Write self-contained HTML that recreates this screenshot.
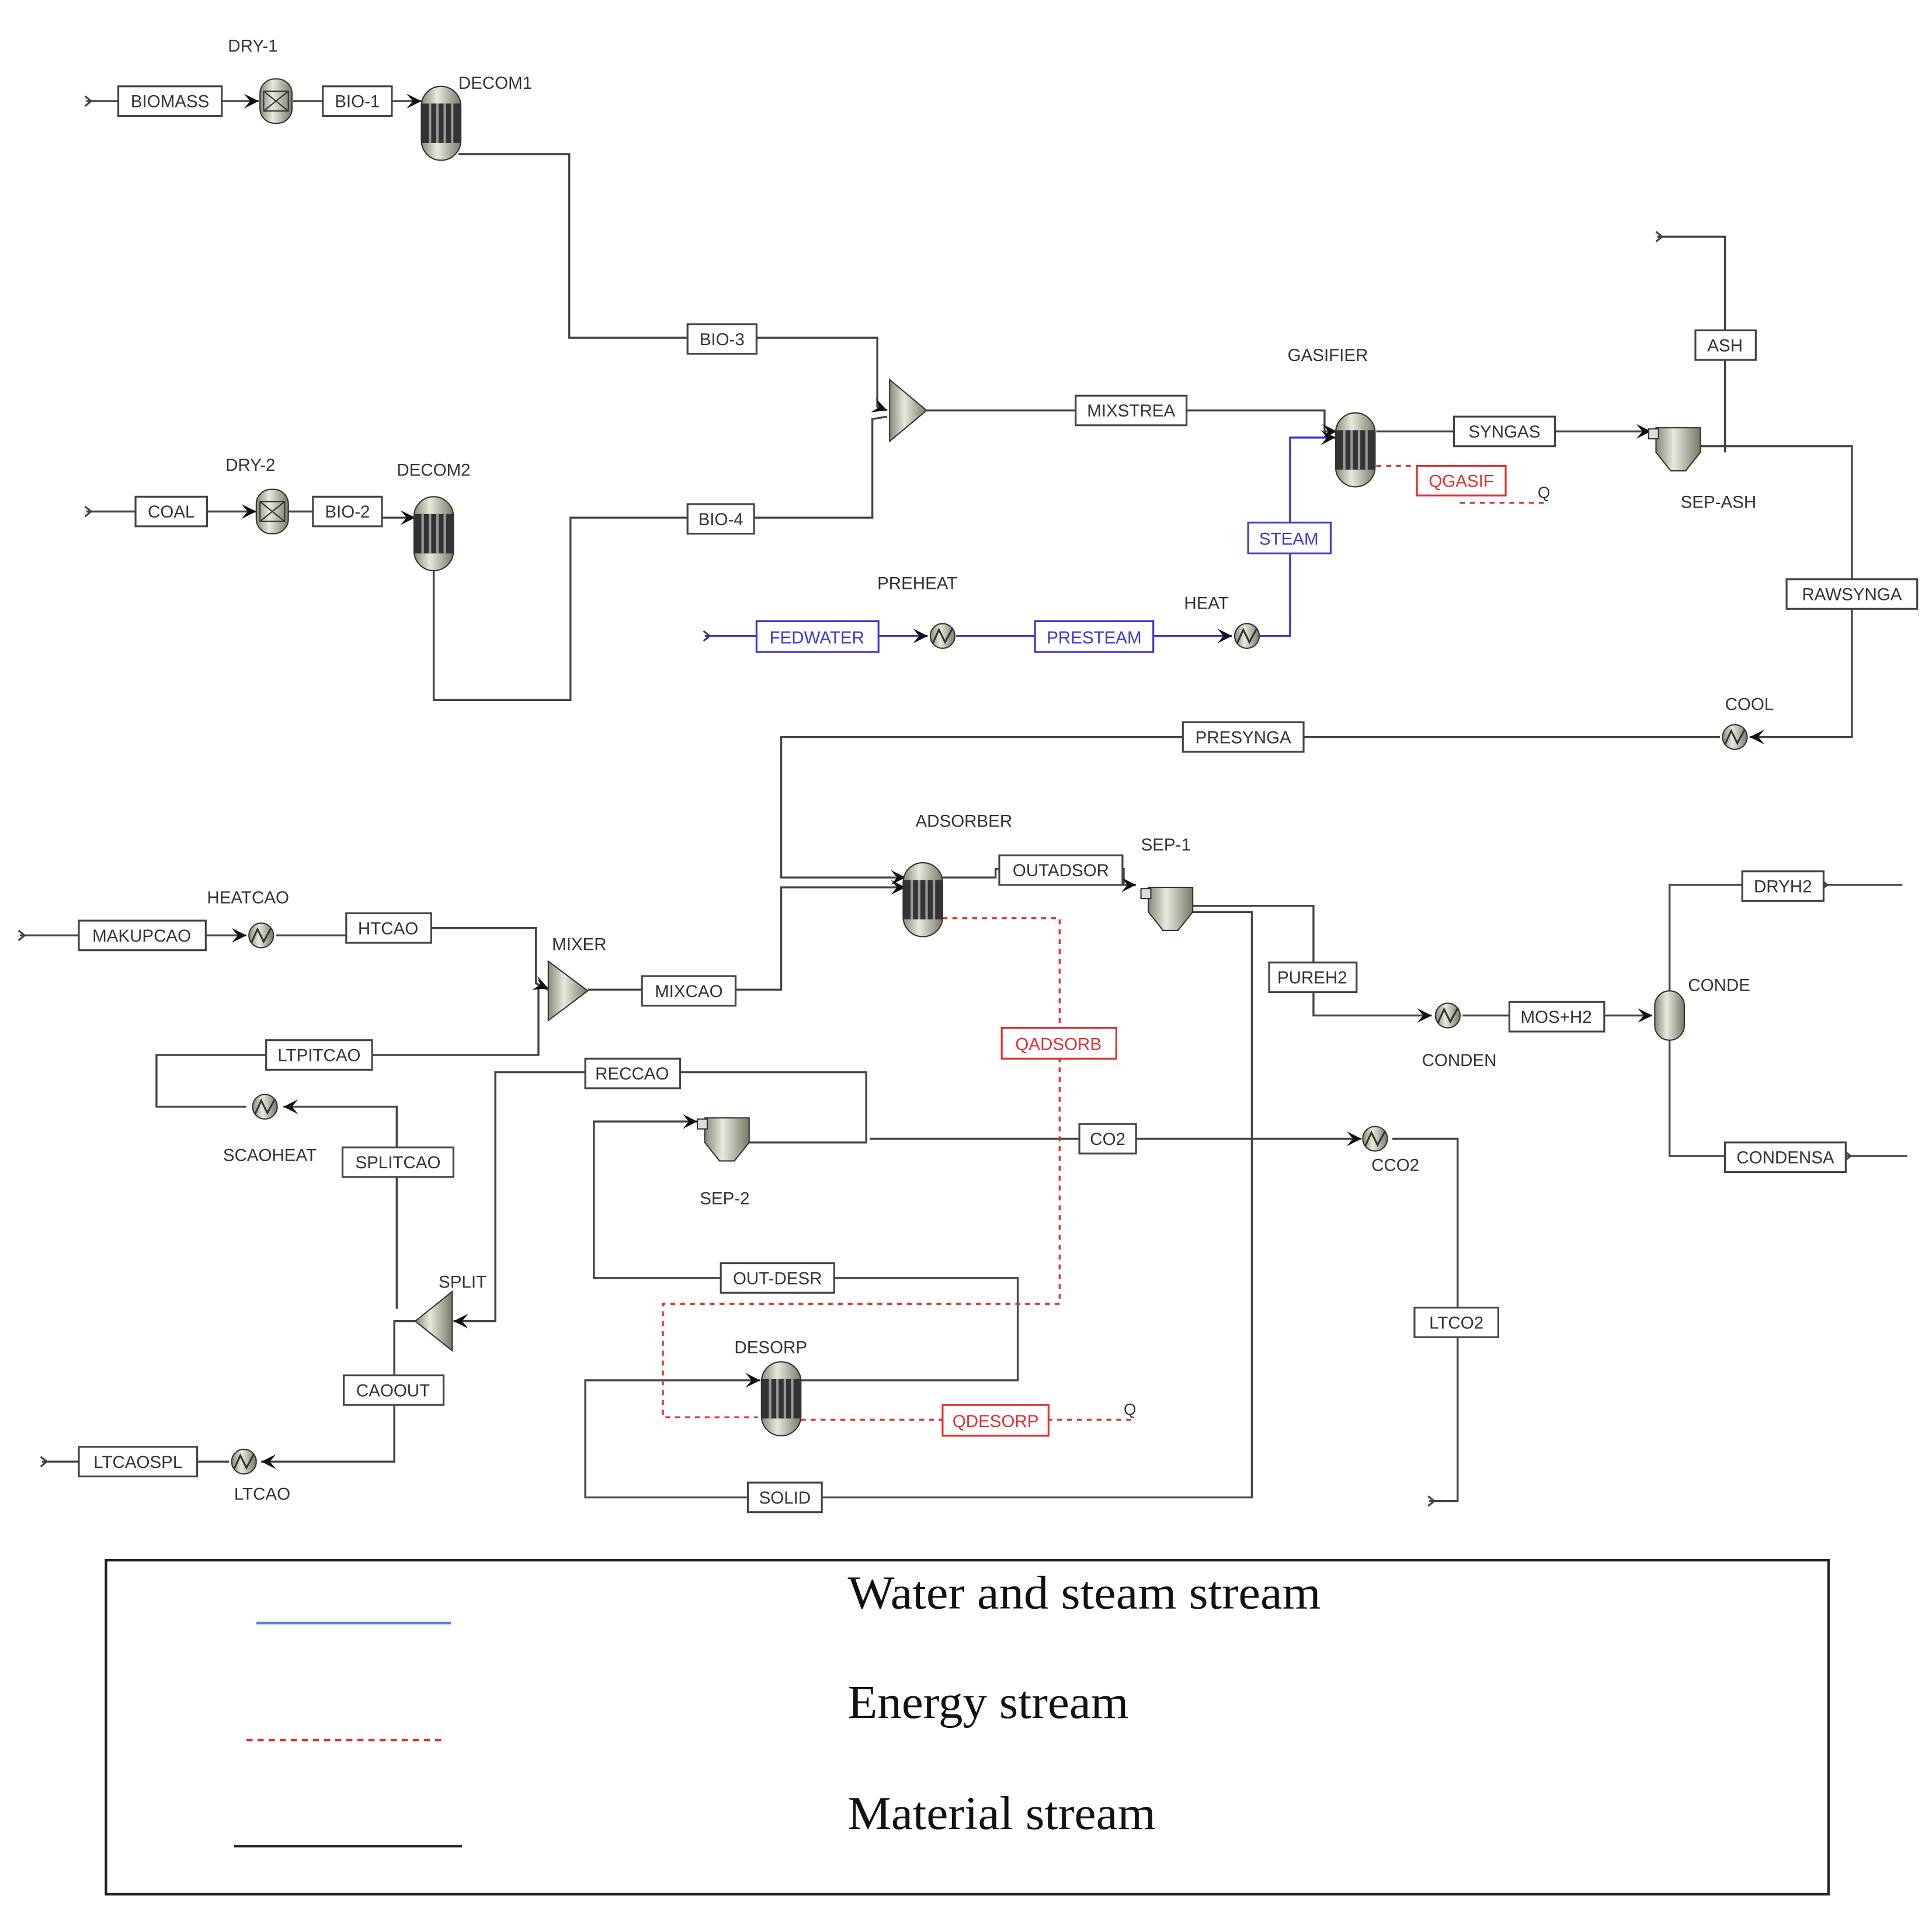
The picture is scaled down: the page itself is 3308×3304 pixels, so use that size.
<!DOCTYPE html>
<html><head><meta charset="utf-8"><style>
html,body{margin:0;padding:0;background:#fff}
svg{display:block}
text{font-family:"Liberation Sans",sans-serif}
text.sf{font-family:"Liberation Serif",serif;font-size:38px;fill:#111}
.l{font-size:14px;fill:#333}
.b{font-size:14px;fill:#333}
.m{stroke:#444;stroke-width:1.6;fill:none}
.w{stroke:#3a3acc;stroke-width:1.6;fill:none}
.e{stroke:#e03030;stroke-width:1.6;fill:none;stroke-dasharray:4 4}
.bx{fill:#fff;stroke:#444;stroke-width:1.5}
</style></head><body>
<svg width="3308" height="3304" viewBox="0 0 1568 1566" xmlns="http://www.w3.org/2000/svg">
<defs>
<marker id="a" markerWidth="14" markerHeight="14" refX="12" refY="7" orient="auto" markerUnits="userSpaceOnUse">
<path d="M0,1 L12,7 L0,13 L5,7 Z" fill="#111"/></marker>
<marker id="t" markerWidth="10" markerHeight="10" refX="5" refY="5" orient="auto" markerUnits="userSpaceOnUse">
<path d="M1,5 L6,1 M1,5 L6,9" stroke="#444" stroke-width="1.5" fill="none"/></marker>
<linearGradient id="g" x1="0" x2="1"><stop offset="0" stop-color="#8a8a7a"/><stop offset=".4" stop-color="#e8e8dc"/><stop offset="1" stop-color="#7a7a6a"/></linearGradient>
<g id="col"><rect x="-16" y="-30" width="32" height="60" rx="16" fill="url(#g)" stroke="#333"/><rect x="-16" y="-16" width="32" height="32" fill="#333"/><path d="M-9,-16V16M-3,-16V16M3,-16V16M9,-16V16" stroke="#999" stroke-width="2"/></g>
<g id="dry"><rect x="-13" y="-18" width="26" height="36" rx="12" fill="url(#g)" stroke="#333"/><path d="M-10,-8H10V8H-10Z M-10,-8L10,8 M10,-8L-10,8" stroke="#333" fill="none"/></g>
<g id="hx"><circle r="10" fill="url(#g)" stroke="#333"/><path d="M-8,6 L-3,-5 L2,5 L8,-6" stroke="#333" fill="none" stroke-width="1.5"/></g>
<g id="sep"><path d="M-18,-15H18V5L6,20H-6L-18,5Z" fill="url(#g)" stroke="#333"/><rect x="-24" y="-14" width="8" height="8" fill="#ddd" stroke="#333"/></g>
<g id="cap"><rect x="-12" y="-20" width="24" height="40" rx="12" fill="url(#g)" stroke="#333"/></g>
</defs>

<!-- terminus stubs -->
<path class="m" d="M96,82H70" marker-end="url(#t)"/>
<path class="m" d="M110,415H70" marker-end="url(#t)"/>
<path class="m" d="M1390,192H1345" marker-end="url(#t)"/>
<path class="m" d="M64,759H16" marker-end="url(#t)"/>
<path class="m" d="M64,1186H34" marker-end="url(#t)"/>
<path class="m" d="M1480,718H1545" marker-end="url(#t)" transform="rotate(180 1512 718)"/>
<path class="m" d="M1498,938H1548" marker-end="url(#t)" transform="rotate(180 1523 938)"/>
<path class="m" d="M1175,1218H1160" marker-end="url(#t)"/>
<path class="w" d="M614,516H572" marker-end="url(#t)"/>

<!-- material lines -->
<path class="m" d="M180,82H210" marker-end="url(#a)"/>
<path class="m" d="M238,82H262M318,82H342" marker-end="url(#a)"/>
<path class="m" d="M372,125H462V274H712V330L720,333" marker-end="url(#a)"/>
<path class="m" d="M168,415H208" marker-end="url(#a)"/>
<path class="m" d="M234,415H254M310,420H337" marker-end="url(#a)"/>
<path class="m" d="M352,463V568H463V420H708V340L720,338"/>
<path class="m" d="M752,333H1075V350L1085,350" marker-end="url(#a)"/>
<path class="m" d="M1117,350H1340" marker-end="url(#a)"/>
<path class="m" d="M1400,367V192H1390"/>
<path class="m" d="M1380,362H1503V598H1420" marker-end="url(#a)"/>
<path class="m" d="M1396,598H634V712H735" marker-end="url(#a)"/>
<path class="m" d="M765,712H808V705H912V718H922" marker-end="url(#a)"/>
<path class="m" d="M968,735H1066V824H1162" marker-end="url(#a)"/>
<path class="m" d="M1187,824H1341" marker-end="url(#a)"/>
<path class="m" d="M1355,804V718H1480M1355,844V938H1498"/>
<path class="m" d="M968,740H1016V1215H475V1120H617" marker-end="url(#a)"/>
<path class="m" d="M650,1120H826V1037H482V910H566" marker-end="url(#a)"/>
<path class="m" d="M608,927H703V870H402V1072H368" marker-end="url(#a)"/>
<path class="m" d="M706,924H1105" marker-end="url(#a)"/>
<path class="m" d="M1130,924H1183V1218H1175"/>
<path class="m" d="M322,1062V898H230" marker-end="url(#a)"/>
<path class="m" d="M200,898H127V856H437V800L445,803"/>
<path class="m" d="M337,1072H320V1186H212" marker-end="url(#a)"/>
<path class="m" d="M186,1186H64"/>
<path class="m" d="M167,759H200" marker-end="url(#a)"/>
<path class="m" d="M224,759H281M350,753H435V798L445,802" marker-end="url(#a)"/>
<path class="m" d="M477,803H634V720H735" marker-end="url(#a)"/>
<!-- water -->
<path class="w" d="M713,516H753" marker-end="url(#a)"/>
<path class="w" d="M776,516H840M936,516H1000" marker-end="url(#a)"/>
<path class="w" d="M1022,516H1047V355H1084" marker-end="url(#a)"/>
<!-- energy -->
<path class="e" d="M1117,378H1150M1185,408H1255"/>
<path class="e" d="M765,745H860V1058H538V1150H615"/>
<path class="e" d="M650,1152H920"/>

<!-- units -->
<use href="#dry" x="224" y="82"/><use href="#dry" x="221" y="415"/>
<use href="#col" x="358" y="100"/><use href="#col" x="352" y="433"/>
<use href="#col" x="1100" y="365"/><use href="#col" x="749" y="730"/><use href="#col" x="634" y="1135"/>
<polygon points="722,308 722,358 752,333" fill="url(#g)" stroke="#333"/>
<polygon points="445,780 445,828 477,804" fill="url(#g)" stroke="#333"/>
<polygon points="367,1048 367,1096 337,1072" fill="url(#g)" stroke="#333"/>
<use href="#sep" x="1362" y="362"/><use href="#sep" x="950" y="735"/><use href="#sep" x="590" y="922"/>
<use href="#hx" x="1408" y="598"/><use href="#hx" x="765" y="516"/><use href="#hx" x="1012" y="516"/>
<use href="#hx" x="1175" y="824"/><use href="#hx" x="212" y="759"/><use href="#hx" x="215" y="898"/>
<use href="#hx" x="198" y="1186"/><use href="#hx" x="1116" y="924"/>
<use href="#cap" x="1355" y="824"/>
<text x="1248" y="404" font-size="13" fill="#333">Q</text><text x="912" y="1148" font-size="13" fill="#333">Q</text>

<!-- labels -->
<g class="l">
<text x="185" y="42">DRY-1</text><text x="372" y="72">DECOM1</text>
<text x="183" y="382">DRY-2</text><text x="322" y="386">DECOM2</text>
<text x="1045" y="293">GASIFIER</text><text x="1364" y="412">SEP-ASH</text>
<text x="712" y="478">PREHEAT</text><text x="961" y="494">HEAT</text>
<text x="1400" y="576">COOL</text><text x="743" y="671">ADSORBER</text>
<text x="926" y="690">SEP-1</text><text x="1154" y="865">CONDEN</text>
<text x="1370" y="804">CONDE</text><text x="168" y="733">HEATCAO</text>
<text x="448" y="771">MIXER</text><text x="181" y="942">SCAOHEAT</text>
<text x="568" y="977">SEP-2</text><text x="356" y="1045">SPLIT</text>
<text x="1113" y="950">CCO2</text><text x="596" y="1098">DESORP</text>
<text x="190" y="1217">LTCAO</text>
</g>

<!-- boxes -->
<g>
<rect class="bx" x="96" y="70" width="84" height="24"/><text class="b" x="138" y="87" text-anchor="middle">BIOMASS</text>
<rect class="bx" x="262" y="70" width="56" height="24"/><text class="b" x="290" y="87" text-anchor="middle">BIO-1</text>
<rect class="bx" x="110" y="403" width="58" height="24"/><text class="b" x="139" y="420" text-anchor="middle">COAL</text>
<rect class="bx" x="254" y="403" width="56" height="24"/><text class="b" x="282" y="420" text-anchor="middle">BIO-2</text>
<rect class="bx" x="558" y="263" width="56" height="24"/><text class="b" x="586" y="280" text-anchor="middle">BIO-3</text>
<rect class="bx" x="558" y="409" width="54" height="24"/><text class="b" x="585" y="426" text-anchor="middle">BIO-4</text>
<rect class="bx" x="873" y="321" width="90" height="24"/><text class="b" x="918" y="338" text-anchor="middle">MIXSTREA</text>
<rect class="bx" x="1180" y="338" width="82" height="24"/><text class="b" x="1221" y="355" text-anchor="middle">SYNGAS</text>
<rect class="bx" x="1376" y="268" width="49" height="24"/><text class="b" x="1400" y="285" text-anchor="middle">ASH</text>
<rect class="bx" x="1450" y="470" width="106" height="24"/><text class="b" x="1503" y="487" text-anchor="middle">RAWSYNGA</text>
<rect class="bx" x="960" y="586" width="98" height="24"/><text class="b" x="1009" y="603" text-anchor="middle">PRESYNGA</text>
<rect class="bx" x="811" y="694" width="100" height="24"/><text class="b" x="861" y="711" text-anchor="middle">OUTADSOR</text>
<rect class="bx" x="1030" y="781" width="71" height="24"/><text class="b" x="1065" y="798" text-anchor="middle">PUREH2</text>
<rect class="bx" x="1225" y="813" width="77" height="24"/><text class="b" x="1263" y="830" text-anchor="middle">MOS+H2</text>
<rect class="bx" x="1414" y="707" width="66" height="24"/><text class="b" x="1447" y="724" text-anchor="middle">DRYH2</text>
<rect class="bx" x="1400" y="927" width="98" height="24"/><text class="b" x="1449" y="944" text-anchor="middle">CONDENSA</text>
<rect class="bx" x="876" y="912" width="46" height="24"/><text class="b" x="899" y="929" text-anchor="middle">CO2</text>
<rect class="bx" x="1148" y="1061" width="68" height="24"/><text class="b" x="1182" y="1078" text-anchor="middle">LTCO2</text>
<rect class="bx" x="607" y="1203" width="60" height="24"/><text class="b" x="637" y="1220" text-anchor="middle">SOLID</text>
<rect class="bx" x="585" y="1025" width="92" height="24"/><text class="b" x="631" y="1042" text-anchor="middle">OUT-DESR</text>
<rect class="bx" x="475" y="859" width="77" height="24"/><text class="b" x="513" y="876" text-anchor="middle">RECCAO</text>
<rect class="bx" x="521" y="792" width="76" height="24"/><text class="b" x="559" y="809" text-anchor="middle">MIXCAO</text>
<rect class="bx" x="64" y="747" width="103" height="24"/><text class="b" x="115" y="764" text-anchor="middle">MAKUPCAO</text>
<rect class="bx" x="281" y="741" width="69" height="24"/><text class="b" x="315" y="758" text-anchor="middle">HTCAO</text>
<rect class="bx" x="216" y="844" width="86" height="24"/><text class="b" x="259" y="861" text-anchor="middle">LTPITCAO</text>
<rect class="bx" x="278" y="931" width="90" height="24"/><text class="b" x="323" y="948" text-anchor="middle">SPLITCAO</text>
<rect class="bx" x="279" y="1116" width="81" height="24"/><text class="b" x="319" y="1133" text-anchor="middle">CAOOUT</text>
<rect class="bx" x="64" y="1174" width="96" height="24"/><text class="b" x="112" y="1191" text-anchor="middle">LTCAOSPL</text>
<rect x="614" y="504" width="99" height="25" fill="#fff" stroke="#3a3acc" stroke-width="1.5"/><text x="663" y="522" font-size="14" fill="#3a3acc" text-anchor="middle">FEDWATER</text>
<rect x="840" y="504" width="96" height="25" fill="#fff" stroke="#3a3acc" stroke-width="1.5"/><text x="888" y="522" font-size="14" fill="#3a3acc" text-anchor="middle">PRESTEAM</text>
<rect x="1013" y="424" width="67" height="25" fill="#fff" stroke="#3a3acc" stroke-width="1.5"/><text x="1046" y="442" font-size="14" fill="#3a3acc" text-anchor="middle">STEAM</text>
<rect x="1150" y="378" width="72" height="24" fill="#fff" stroke="#e03030" stroke-width="1.5"/><text x="1186" y="395" font-size="14" fill="#e03030" text-anchor="middle">QGASIF</text>
<rect x="813" y="834" width="93" height="25" fill="#fff" stroke="#e03030" stroke-width="1.5"/><text x="859" y="852" font-size="14" fill="#e03030" text-anchor="middle">QADSORB</text>
<rect x="765" y="1140" width="86" height="25" fill="#fff" stroke="#e03030" stroke-width="1.5"/><text x="808" y="1158" font-size="14" fill="#e03030" text-anchor="middle">QDESORP</text>
</g>

<!-- legend -->
<rect x="86" y="1266" width="1398" height="271" fill="none" stroke="#222" stroke-width="2"/>
<line x1="208" y1="1317" x2="366" y2="1317" stroke="#4a86d8" stroke-width="2"/>
<line x1="200" y1="1412" x2="360" y2="1412" stroke="#e03030" stroke-width="2" stroke-dasharray="5 4"/>
<line x1="190" y1="1498" x2="375" y2="1498" stroke="#222" stroke-width="2"/>
<text class="sf" x="688" y="1305" textLength="384" lengthAdjust="spacingAndGlyphs">Water and steam stream</text>
<text class="sf" x="688" y="1394" textLength="228" lengthAdjust="spacingAndGlyphs">Energy stream</text>
<text class="sf" x="688" y="1484" textLength="250" lengthAdjust="spacingAndGlyphs">Material stream</text>
</svg>
</body></html>
